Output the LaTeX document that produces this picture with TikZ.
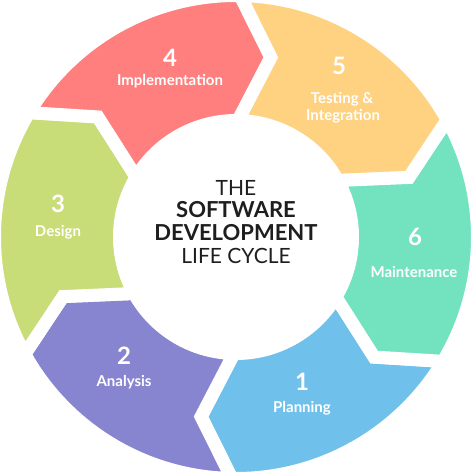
\documentclass[tikz,border=0pt]{standalone}
\usepackage{fontspec}
\setmainfont{Lato}
\usepackage{tikz}
\usetikzlibrary{calc}

\definecolor{planning}{HTML}{6FC1EC}
\definecolor{analysis}{HTML}{8784D0}
\definecolor{design}{HTML}{C8DC77}
\definecolor{implement}{HTML}{FF7E7E}
\definecolor{testing}{HTML}{FED280}
\definecolor{maintain}{HTML}{72E2BF}
\definecolor{titlegray}{HTML}{1E1E1E}

\begin{document}
\begin{tikzpicture}[
		seg/.style = {draw=white, line width=13pt},
		num/.style = {text=white, anchor=base, font=\bfseries\fontsize{24}{24}\selectfont},
		lbl/.style = {text=white, anchor=base, font=\bfseries\fontsize{15}{15}\selectfont},
		ttl/.style = {text=titlegray, anchor=base, font=\fontsize{21}{21}\selectfont},
		ttlb/.style = {ttl, font=\bfseries\fontsize{22}{22}\selectfont}
	]
		\useasboundingbox (-236pt,-237pt) rectangle (238pt,237pt);

		\path[seg, fill=planning] (-31:241.5pt) arc[start angle=-31, end angle=-91, radius=241.5pt]
			-- (-101:183pt) -- (-91:116.5pt) arc[start angle=-91, end angle=-31, radius=116.5pt]
			-- (-41:183pt) -- cycle;
		\path[seg, fill=analysis] (-91:241.5pt) arc[start angle=-91, end angle=-151, radius=241.5pt]
			-- (-161:183pt) -- (-151:116.5pt) arc[start angle=-151, end angle=-91, radius=116.5pt]
			-- (-101:183pt) -- cycle;
		\path[seg, fill=design] (209:241.5pt) arc[start angle=209, end angle=149, radius=241.5pt]
			-- (139:183pt) -- (149:116.5pt) arc[start angle=149, end angle=209, radius=116.5pt]
			-- (199:183pt) -- cycle;
		\path[seg, fill=implement] (149:241.5pt) arc[start angle=149, end angle=89, radius=241.5pt]
			-- (79:183pt) -- (89:116.5pt) arc[start angle=89, end angle=149, radius=116.5pt]
			-- (139:183pt) -- cycle;
		\path[seg, fill=testing] (89:241.5pt) arc[start angle=89, end angle=29, radius=241.5pt]
			-- (19:183pt) -- (29:116.5pt) arc[start angle=29, end angle=89, radius=116.5pt]
			-- (79:183pt) -- cycle;
		\path[seg, fill=maintain] (29:241.5pt) arc[start angle=29, end angle=-31, radius=241.5pt]
			-- (-41:183pt) -- (-31:116.5pt) arc[start angle=-31, end angle=29, radius=116.5pt]
			-- (19:183pt) -- cycle;

		\node[num] (n1) at (66pt,-153pt) {1};
		\node[lbl] (l1) at (66pt,-175pt) {Planning};
		\node[num] (n2) at (-112pt,-127pt) {2};
		\node[lbl] (l2) at (-112pt,-149pt) {Analysis};
		\node[num] (n3) at (-178pt,25pt) {3};
		\node[lbl] (l3) at (-178pt,1pt) {Design};
		\node[num] (n4) at (-66pt,170pt) {4};
		\node[lbl] (l4) at (-66pt,151pt) {Implementation};
		\node[num] (n5) at (103pt,162pt) {5};
		\node[lbl] (l5a) at (106pt,133pt) {Testing \&};
		\node[lbl] (l5b) at (107pt,116pt) {Integration};
		\node[num] (n6) at (179pt,-8pt) {6};
		\node[lbl] (l6) at (178pt,-40pt) {Maintenance};

		\node[ttl] (the) at (0pt,42pt) {THE};
		\node[ttlb] (sw) at (0pt,20pt) {SOFTWARE};
		\node[ttlb] (dev) at (0pt,-3pt) {DEVELOPMENT};
		\node[ttl] (lc) at (0pt,-26pt) {LIFE CYCLE};
	\end{tikzpicture}
\end{document}
